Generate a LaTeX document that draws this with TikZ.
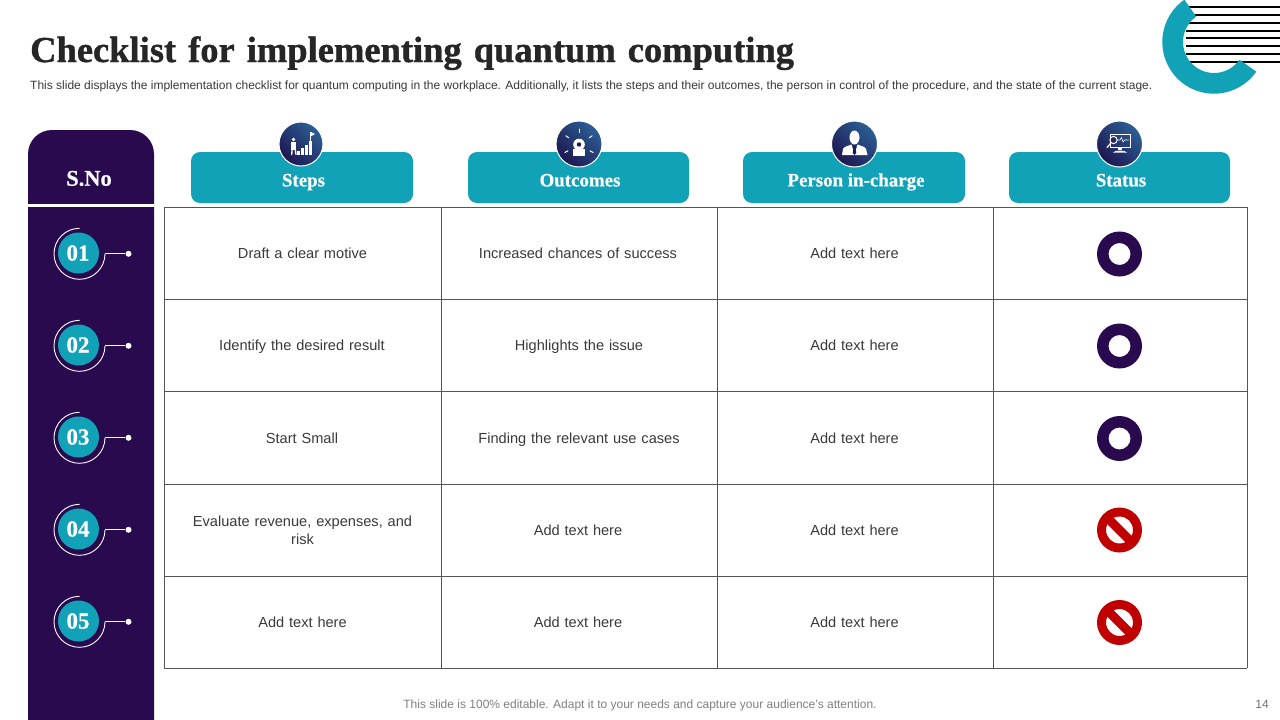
\documentclass[tikz,border=0pt]{standalone}
\usepackage{fontspec}
\setmainfont{Liberation Sans}
\newfontfamily\headfont[BoldFeatures={FakeBold=0.5}]{Liberation Serif}
\newfontfamily\titlefont[BoldFeatures={FakeBold=1.0}]{Liberation Serif}
\definecolor{teal1}{HTML}{12A2B8}
\definecolor{purp}{HTML}{2A0A4F}
\definecolor{ink}{HTML}{3A3A3A}
\definecolor{gridc}{HTML}{555555}
\definecolor{redc}{HTML}{C00000}
\definecolor{navyA}{HTML}{1E1650}
\definecolor{navyB}{HTML}{2C5F96}
\tikzset{
  cell/.style={font=\fontsize{14.6}{18}\selectfont,text=ink,align=center,text width=235pt,inner sep=0pt,yshift=-1.8pt,execute at begin node=\strut,execute at end node=\strut},
  headbox/.style={fill=teal1,rounded corners=9pt,draw=none},
  headtext/.style={font=\headfont\bfseries\fontsize{18.9}{22}\selectfont,text=white,inner sep=0pt,yshift=-2pt,execute at begin node=\strut},
  numtext/.style={font=\headfont\bfseries\fontsize{23}{26}\selectfont,text=white,inner sep=0pt},
  gridline/.style={draw=gridc,line width=0.9pt},
  iconshade/.style={shade,top color=navyA,bottom color=navyB,shading angle=135,draw=white,line width=1pt},
  wfill/.style={fill=white,draw=none},
  wline/.style={draw=white,line width=1pt,line cap=round}
}
\begin{document}
\begin{tikzpicture}[x=1pt,y=-1pt]
\useasboundingbox (0,0) rectangle (1280,720);
\fill[white] (0,0) rectangle (1280,720);

% top-right decoration
\foreach \yy in {6.7,14.7,22.7,30.7,38.4,46,54,61.7}
  \draw[black,line width=2pt] (1186,\yy) -- (1280,\yy);
\fill[teal1]
  ({1214+51.7*cos(125)},{42-51.7*sin(125)})
  arc[start angle=-125,end angle=-325,radius=51.7]
  -- ({1214+31*cos(35)},{42+31*sin(35)})
  arc[start angle=-325,end angle=-125,radius=31] -- cycle;

% title
\node[anchor=base west,inner sep=0pt,font=\titlefont\bfseries\fontsize{36.5}{40}\selectfont,text=black!85] (title) at (30,62) {\spaceskip=12pt Checklist for implementing quantum computing};
\node[anchor=base west,inner sep=0pt,font=\fontsize{12}{14}\selectfont,text=ink] (sub) at (30,89) {This slide displays the implementation checklist for quantum computing in the workplace. Additionally, it lists the steps and their outcomes, the person in control of the procedure, and the state of the current stage.};

% sidebar
\fill[purp] (28,720) -- (28,154) arc[start angle=180,end angle=270,radius=24] -- (130,130) arc[start angle=270,end angle=360,radius=24] -- (154,720) -- cycle;
\node[headtext,font=\headfont\bfseries\fontsize{22.4}{26}\selectfont] (sno) at (89,178.5) {S.No};
\draw[white,line width=3pt] (28,205.5) -- (154,205.5);

\foreach \n/\yy in {01/253,02/345,03/437,04/529,05/621}{
  \node[circle,fill=teal1,minimum size=41pt,inner sep=0pt] (num\n) at (78.5,\yy) {};
  \node[numtext] at (78,\yy) {\n};
  \coordinate (start\n) at (105,\yy+0.8);
  \node[circle,fill=white,minimum size=6pt,inner sep=0pt] (dot\n) at (128.5,\yy+0.8) {};
  \draw[white,line width=0.9pt] (79.5,\yy+0.8-25.5) arc[start angle=-90,end angle=-360,radius=25.5];
  \draw[white,line width=0.9pt] (start\n) -- (dot\n);
}

% table grid
\foreach \yy in {207,299,391,484,576,668}
  \draw[gridline] (164,\yy) -- (1247,\yy);
\foreach \xx in {164,441,717,993,1247}
  \draw[gridline] (\xx,207) -- (\xx,668);

% header boxes
\fill[headbox] (191,152) rectangle (413,203);
\fill[headbox] (468,152) rectangle (689,203);
\fill[headbox] (743,152) rectangle (965,203);
\fill[headbox] (1009,152) rectangle (1230,203);
\node[headtext] (h1) at (303.5,180) {Steps};
\node[headtext] (h2) at (580,180) {Outcomes};
\node[headtext] (h3) at (856,180) {Person in-charge};
\node[headtext] (h4) at (1121,180) {Status};

% icons
\path[iconshade] (301,144) circle[radius=22];
\path[iconshade] (579,144) circle[radius=23];
\path[iconshade] (854.5,144) circle[radius=23];
\path[iconshade] (1119.5,144) circle[radius=23];

% steps icon
\fill[wfill] (297,155) rectangle (300.2,150.5);
\fill[wfill] (301,155) rectangle (304.2,147.5);
\fill[wfill] (305,155) rectangle (308.2,144.5);
\fill[wfill] (309,155) rectangle (312.3,141);
\draw[white,line width=0.8pt] (310.5,141) -- (310.5,132);
\fill[wfill] (310.8,132) -- (315,134) -- (310.8,136.5) -- cycle;
\fill[wfill] (293.5,139.5) circle[radius=1.9];
\fill[wfill] (291.2,142) rectangle (296,149.5);
\draw[wline,line width=1.3pt] (292,149) -- (291.8,154.5) (295.2,149) -- (296,154.5);

% outcomes icon
\fill[wfill] (573,148.5) rectangle (585,155.5);
\fill[wfill] (579,144.5) circle[radius=5.8];
\fill[navyA] (579,144.5) circle[radius=2.2];
\foreach \a in {90,35,145,-28,208}{
  \draw[wline,line width=1pt] ({579+12.5*cos(\a)},{145-12.5*sin(\a)}) -- ({579+16*cos(\a)},{145-16*sin(\a)});
}

% person icon
\fill[wfill] (842,155) -- (843,149) .. controls (844,146.5) and (848,146) .. (851.5,144.5) -- (854.5,155) -- (857.5,144.5) .. controls (861,146) and (865,146.5) .. (866,149) -- (867.5,155) -- cycle;
\fill[wfill] (854.5,137.5) ellipse[x radius=5,y radius=7];
\fill[navyA] (853.3,145.5) -- (855.7,145.5) -- (855.4,148) -- (856.3,153) -- (854.5,155) -- (852.7,153) -- (853.6,148) -- cycle;

% status icon
\draw[white,line width=0.9pt] (1110,134) rectangle (1130.5,147);
\fill[wfill] (1118,147) rectangle (1122,150);
\fill[wfill] (1113,152.5) .. controls (1115,150) and (1125,150) .. (1127,152.5) -- cycle;
\draw[white,line width=1pt,fill=navyA!80!navyB] (1113.5,140) circle[radius=3.6];
\draw[wline,line width=1.2pt] (1110.8,143) -- (1107,147.5);
\draw[white,line width=0.6pt] (1117,140) -- (1120,140) -- (1121.5,137.5) -- (1123,142) -- (1124.5,140) -- (1128.5,140);

% cells
\node[cell] (a1) at (302.5,253) {Draft a clear motive};
\node[cell] (b1) at (578,253) {Increased chances of success};
\node[cell] (c1) at (854.5,253) {Add text here};
\node[cell] (a2) at (302,345) {Identify the desired result};
\node[cell] (b2) at (579,345) {Highlights the issue};
\node[cell] (c2) at (854.5,345) {Add text here};
\node[cell] (a3) at (302,438) {Start Small};
\node[cell] (b3) at (579,438) {Finding the relevant use cases};
\node[cell] (c3) at (854.5,438) {Add text here};
\node[cell] (a4) at (302.5,530) {Evaluate revenue, expenses, and\\risk};
\node[cell] (b4) at (578,530) {Add text here};
\node[cell] (c4) at (854.5,530) {Add text here};
\node[cell] (a5) at (302.5,622) {Add text here};
\node[cell] (b5) at (578,622) {Add text here};
\node[cell] (c5) at (854.5,622) {Add text here};

% status marks
\foreach \yy in {254,346,438.5}{
  \fill[purp,even odd rule] (1119.5,\yy) circle[radius=22.5] (1119.5,\yy) circle[radius=11];
}
\foreach \yy in {530,622.5}{
  \fill[redc,even odd rule] (1119.5,\yy) circle[radius=22.5] (1119.5,\yy) circle[radius=13.5];
  \draw[redc,line width=9pt] (1119.5-12,\yy-12) -- (1119.5+12,\yy+12);
}

% footer
\node[anchor=base,inner sep=0pt,font=\fontsize{12}{14}\selectfont,text=black!50] (foot) at (640,708.5) {This slide is 100\% editable. Adapt it to your needs and capture your audience's attention.};
\node[anchor=base,inner sep=0pt,font=\fontsize{12}{14}\selectfont,text=black!55] (page) at (1262,708) {14};
\end{tikzpicture}
\end{document}
